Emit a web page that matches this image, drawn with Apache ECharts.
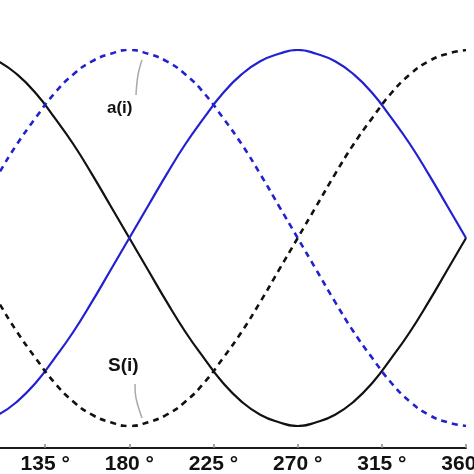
<!DOCTYPE html>
<html>
<head>
<meta charset="utf-8">
<script src="https://cdn.jsdelivr.net/npm/echarts@6/dist/echarts.min.js"></script>
<style>html,body{margin:0;padding:0;background:#fff;}#c{width:474px;height:474px;}</style>
</head>
<body>
<div id="c"></div>
<script>
// angles (degrees)
const angles = [90,100,110,120,130,140,150,160,170,180,190,200,210,220,230,240,250,260,270,280,290,300,310,320,330,340,350,360];
// black solid
const blackSolid = [1.00,0.98,0.94,0.87,0.77,0.64,0.50,0.34,0.17,0.00,-0.17,-0.34,-0.50,-0.64,-0.77,-0.87,-0.94,-0.98,-1.00,-0.98,-0.94,-0.87,-0.77,-0.64,-0.50,-0.34,-0.17,0.00];
// blue solid
const blueSolid = [-1.00,-0.98,-0.94,-0.87,-0.77,-0.64,-0.50,-0.34,-0.17,0.00,0.17,0.34,0.50,0.64,0.77,0.87,0.94,0.98,1.00,0.98,0.94,0.87,0.77,0.64,0.50,0.34,0.17,0.00];
// blue dashed  a(i)
const blueDashed = [0.00,0.17,0.34,0.50,0.64,0.77,0.87,0.94,0.98,1.00,0.98,0.94,0.87,0.77,0.64,0.50,0.34,0.17,0.00,-0.17,-0.34,-0.50,-0.64,-0.77,-0.87,-0.94,-0.98,-1.00];
// black dashed  S(i)
const blackDashed = [0.00,-0.17,-0.34,-0.50,-0.64,-0.77,-0.87,-0.94,-0.98,-1.00,-0.98,-0.94,-0.87,-0.77,-0.64,-0.50,-0.34,-0.17,0.00,0.17,0.34,0.50,0.64,0.77,0.87,0.94,0.98,1.00];

const pairs = arr => angles.map((a,i)=>[a,arr[i]]);
const chart = echarts.init(document.getElementById('c'));
const BLUE = '#2121d2', BLACK = '#111111';
function line(arr,color,type){
  return {type:'line',data:pairs(arr),smooth:true,symbol:'none',
    lineStyle:{color:color,width:type==='solid'?2.2:2.6,type:type==='solid'?'solid':[6,5]}};
}
chart.setOption({
  animation:false,
  backgroundColor:'#fff',
  grid:{left:-39,right:8,top:50,bottom:48,containLabel:false,outerBoundsMode:'none'},
  xAxis:{type:'value',min:90,max:360,interval:45,offset:22,
    axisLine:{onZero:false,lineStyle:{color:'#1a1a1a',width:2}},
    axisTick:{show:true,inside:true,length:4,lineStyle:{color:'#888',width:1.5}},
    axisLabel:{color:'#111',fontFamily:'Liberation Sans',fontSize:21,fontWeight:'bold',margin:6,
      formatter:v=>v+' °'},
    splitLine:{show:false}},
  yAxis:{type:'value',min:-1,max:1,show:false,splitLine:{show:false}},
  series:[line(blackSolid,BLACK,'solid'),line(blueSolid,BLUE,'solid'),
          line(blueDashed,BLUE,'dashed'),line(blackDashed,BLACK,'dashed')],
  graphic:[
    {type:'polyline',shape:{points:[[142,60],[138,75],[136,95]],smooth:0.4},style:{stroke:'#aaa',lineWidth:1.5,fill:null}},
    {type:'text',left:107,top:100,style:{text:'a(i)',font:'bold 17px "Liberation Sans"',fill:'#111'}},
    {type:'polyline',shape:{points:[[135,384],[136,398],[142,418]],smooth:0.4},style:{stroke:'#aaa',lineWidth:1.5,fill:null}},
    {type:'text',left:108,top:356,style:{text:'S(i)',font:'bold 19px "Liberation Sans"',fill:'#111'}}
  ]
});
</script>
</body>
</html>
